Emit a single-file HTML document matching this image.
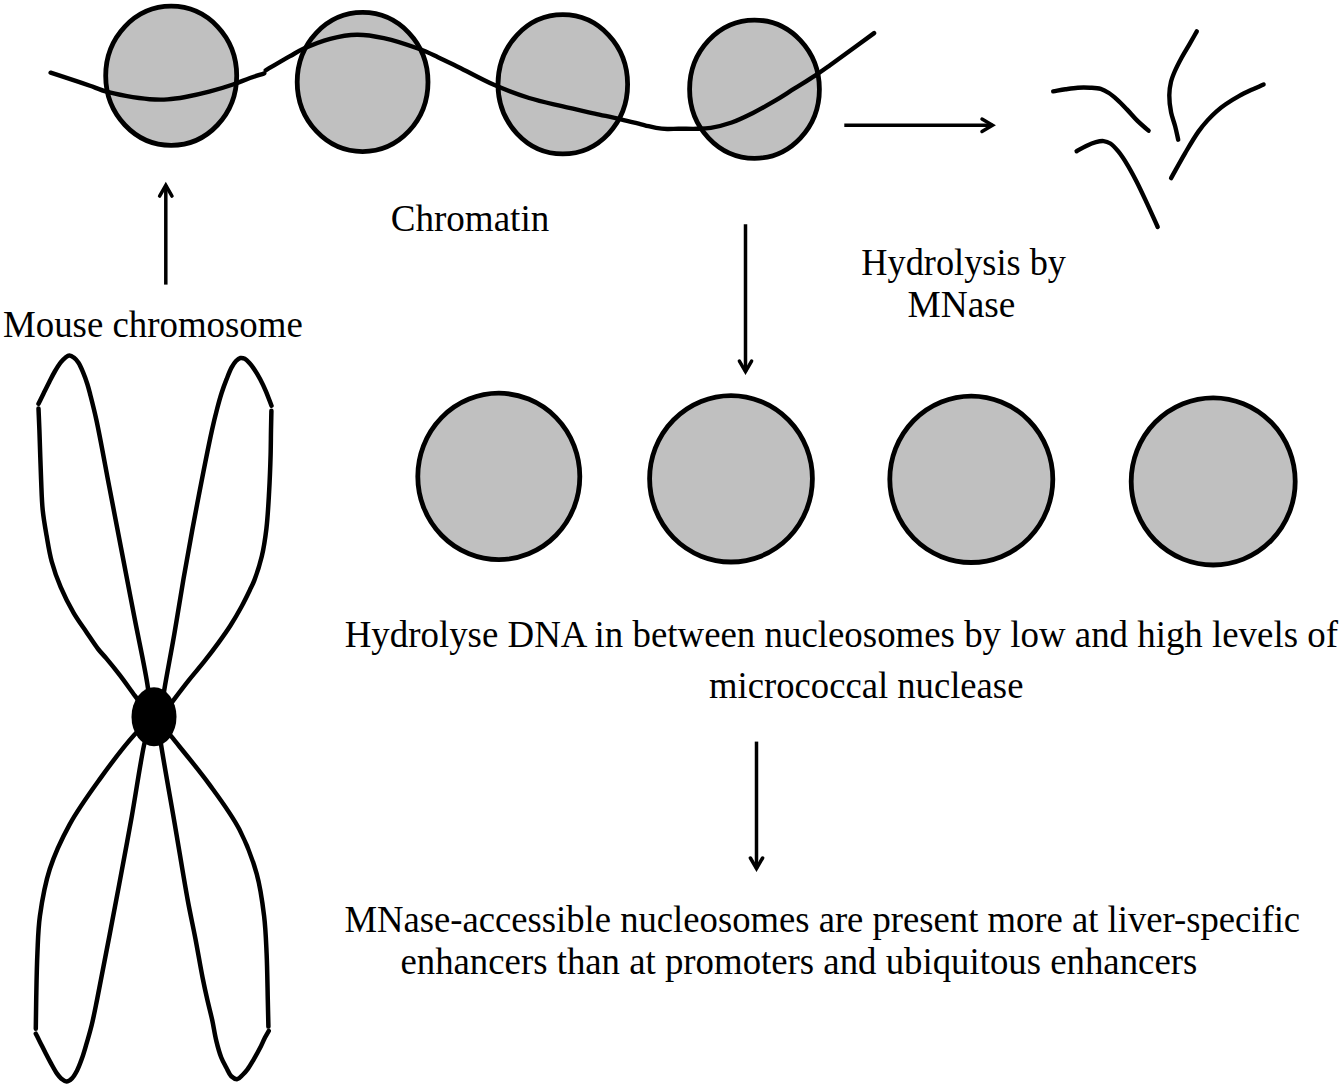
<!DOCTYPE html>
<html><head><meta charset="utf-8"><style>
html,body{margin:0;padding:0;background:#fff;width:1343px;height:1088px;overflow:hidden}
svg{display:block}
text{font-family:"Liberation Serif",serif;font-size:36.6px;fill:#000;white-space:pre;font-variant-ligatures:none}
</style></head><body>
<svg width="1343" height="1088" viewBox="0 0 1343 1088">
<ellipse cx="171.2" cy="75.8" rx="65.50" ry="69.60" fill="#c0c0c0" stroke="#000" stroke-width="4.8"/>
<ellipse cx="362.6" cy="82" rx="65.40" ry="69.60" fill="#c0c0c0" stroke="#000" stroke-width="4.8"/>
<ellipse cx="562.8" cy="84.3" rx="64.80" ry="69.60" fill="#c0c0c0" stroke="#000" stroke-width="4.8"/>
<ellipse cx="754.5" cy="89.2" rx="64.90" ry="69.10" fill="#c0c0c0" stroke="#000" stroke-width="4.8"/>
<path d="M50.60,72.70 C59.47,75.57 69.95,78.88 77.20,81.30 C82.25,82.98 85.46,84.10 90.00,85.70 C95.20,87.53 100.89,90.03 106.70,91.70 C112.80,93.46 119.06,94.69 125.80,95.90 C133.27,97.24 142.21,98.65 149.60,99.20 C155.97,99.68 161.55,99.76 167.50,99.40 C173.48,99.03 179.04,98.13 185.40,97.00 C192.80,95.68 201.31,93.77 209.20,91.70 C217.17,89.61 225.77,86.97 233.00,84.50 C239.18,82.39 244.56,79.93 250.00,78.00 C254.95,76.24 259.53,74.87 264.30,73.30" fill="none" stroke="#000" stroke-width="4.4" stroke-linecap="round" stroke-linejoin="round"/>
<path d="M265.70,70.30 C273.80,65.60 283.08,60.12 290.00,56.20 C295.11,53.31 298.06,51.25 303.40,48.80 C310.70,45.44 321.14,41.16 330.20,38.80 C339.02,36.51 348.06,34.81 357.00,34.70 C365.93,34.59 374.37,36.07 383.80,38.10 C394.76,40.46 408.93,45.21 418.70,48.80 C426.01,51.49 431.08,53.96 437.50,56.90 C444.39,60.06 450.73,63.27 458.70,67.20 C469.09,72.32 482.53,79.89 494.50,85.10 C506.00,90.10 517.62,94.44 529.10,98.00 C540.08,101.41 550.95,103.60 561.90,106.20 C572.82,108.80 584.38,111.31 594.70,113.60 C603.92,115.64 612.37,117.31 620.90,119.30 C629.09,121.21 638.40,123.73 644.90,125.30 C649.33,126.37 652.35,127.28 656.10,127.90 C659.79,128.51 663.49,128.87 667.20,129.00 C670.92,129.13 674.20,128.74 678.40,128.70 C683.82,128.64 691.27,128.99 697.00,128.80 C701.95,128.63 705.76,128.61 710.80,127.80 C717.09,126.78 724.84,124.88 731.70,122.50 C738.75,120.05 745.63,116.62 752.50,113.20 C759.53,109.70 766.50,105.75 773.40,101.70 C780.40,97.59 787.26,93.04 794.20,88.70 C801.16,84.34 808.77,79.79 815.10,75.60 C820.53,72.00 823.75,69.66 830.00,65.20 C840.84,57.48 859.40,43.80 874.10,33.10" fill="none" stroke="#000" stroke-width="4.4" stroke-linecap="round" stroke-linejoin="round"/>
<ellipse cx="498.8" cy="476.4" rx="81.00" ry="83.20" fill="#c0c0c0" stroke="#000" stroke-width="4.8"/>
<ellipse cx="731" cy="478.8" rx="81.40" ry="83.20" fill="#c0c0c0" stroke="#000" stroke-width="4.8"/>
<ellipse cx="971.3" cy="479.3" rx="81.50" ry="83.20" fill="#c0c0c0" stroke="#000" stroke-width="4.8"/>
<ellipse cx="1213.2" cy="481.4" rx="82.00" ry="83.60" fill="#c0c0c0" stroke="#000" stroke-width="4.8"/>
<path d="M844.3,125.2 L992.5,125.2" fill="none" stroke="#000" stroke-width="3.5" stroke-linecap="butt"/><path d="M982,119.1 L992.5,125.2 L982,131.5" fill="none" stroke="#000" stroke-width="3.5" stroke-linejoin="miter" stroke-miterlimit="10" stroke-linecap="round"/>
<path d="M165.8,284.6 L165.8,185.3" fill="none" stroke="#000" stroke-width="3.5" stroke-linecap="butt"/><path d="M159.6,196.1 L165.8,185.3 L172,196.1" fill="none" stroke="#000" stroke-width="3.5" stroke-linejoin="miter" stroke-miterlimit="10" stroke-linecap="round"/>
<path d="M745.5,224.2 L745.5,371.6" fill="none" stroke="#000" stroke-width="3.5" stroke-linecap="butt"/><path d="M739.4,361.1 L745.5,371.6 L751.6,361.1" fill="none" stroke="#000" stroke-width="3.5" stroke-linejoin="miter" stroke-miterlimit="10" stroke-linecap="round"/>
<path d="M756.5,741.6 L756.5,868.5" fill="none" stroke="#000" stroke-width="3.5" stroke-linecap="butt"/><path d="M750.4,858 L756.5,868.5 L762.6,858" fill="none" stroke="#000" stroke-width="3.5" stroke-linejoin="miter" stroke-miterlimit="10" stroke-linecap="round"/>
<path d="M1053.20,91.40 C1057.30,90.70 1061.39,89.92 1065.50,89.30 C1069.59,88.68 1073.70,87.97 1077.80,87.70 C1081.87,87.44 1086.07,87.48 1090.00,87.70 C1093.69,87.91 1097.45,87.94 1100.70,88.90 C1103.70,89.79 1106.25,91.30 1108.90,93.00 C1111.73,94.82 1114.31,97.10 1117.10,99.60 C1120.30,102.47 1123.60,105.97 1126.90,109.40 C1130.40,113.05 1133.83,117.31 1137.50,120.90 C1141.07,124.40 1144.90,127.43 1148.60,130.70" fill="none" stroke="#000" stroke-width="4.4" stroke-linecap="round" stroke-linejoin="round"/>
<path d="M1076.60,151.20 C1079.80,149.43 1082.94,147.43 1086.20,145.90 C1089.38,144.41 1092.81,142.89 1095.90,142.10 C1098.57,141.41 1101.14,140.84 1103.60,141.10 C1105.97,141.35 1108.21,142.12 1110.40,143.50 C1113.09,145.19 1115.59,148.19 1118.10,151.20 C1121.08,154.77 1123.94,159.18 1126.80,163.80 C1130.06,169.06 1133.21,175.00 1136.40,181.20 C1139.95,188.10 1143.50,195.87 1147.00,203.40 C1150.60,211.13 1154.13,219.13 1157.70,227.00" fill="none" stroke="#000" stroke-width="4.4" stroke-linecap="round" stroke-linejoin="round"/>
<path d="M1196.80,31.40 C1194.33,35.70 1191.93,39.92 1189.40,44.30 C1186.77,48.85 1183.79,53.58 1181.30,58.20 C1178.91,62.64 1176.49,67.30 1174.70,71.50 C1173.16,75.11 1171.89,78.09 1171.00,81.80 C1170.01,85.92 1169.35,90.45 1169.30,95.20 C1169.24,100.57 1170.04,107.00 1171.10,112.40 C1172.08,117.38 1174.00,121.86 1175.20,126.50 C1176.35,130.96 1177.20,135.30 1178.20,139.70" fill="none" stroke="#000" stroke-width="4.4" stroke-linecap="round" stroke-linejoin="round"/>
<path d="M1263.60,84.50 C1259.40,86.37 1255.13,88.14 1251.00,90.10 C1246.90,92.04 1242.97,93.93 1238.90,96.20 C1234.55,98.63 1229.63,101.59 1225.70,104.30 C1222.32,106.63 1219.55,108.71 1216.60,111.30 C1213.48,114.04 1210.45,117.13 1207.50,120.40 C1204.37,123.87 1201.56,127.16 1198.40,131.60 C1194.25,137.44 1189.68,145.37 1185.30,152.80 C1180.58,160.81 1175.83,169.67 1171.10,178.10" fill="none" stroke="#000" stroke-width="4.4" stroke-linecap="round" stroke-linejoin="round"/>
<path d="M38.50,403.80 C40.27,400.20 42.01,396.61 43.80,393.00 C45.61,389.35 47.45,385.62 49.30,382.00 C51.12,378.45 52.84,374.86 54.80,371.50 C56.71,368.23 58.90,364.57 60.90,362.10 C62.39,360.26 63.77,358.83 65.30,357.70 C66.62,356.72 67.98,355.54 69.40,355.50 C70.90,355.46 72.66,356.62 74.10,357.70 C75.73,358.92 77.15,360.66 78.50,362.70 C80.19,365.25 81.59,368.73 83.00,372.10 C84.57,375.84 86.18,380.34 87.40,384.20 C88.49,387.64 89.05,390.01 90.10,394.10 C91.80,400.69 94.07,409.32 96.40,420.00 C100.12,437.07 105.09,465.04 109.30,486.90 C113.35,507.91 117.12,527.53 121.20,548.70 C125.51,571.09 130.06,594.71 134.50,617.80 C138.96,641.01 145.50,670.26 147.90,687.60 C149.31,697.78 149.30,703.87 150.00,712.00" fill="none" stroke="#000" stroke-width="4.5" stroke-linecap="round" stroke-linejoin="round"/>
<path d="M38.50,408.50 C38.80,415.67 39.07,421.36 39.40,430.00 C39.90,443.13 40.47,465.08 41.10,479.60 C41.59,490.97 41.71,500.32 42.70,510.00 C43.61,518.95 45.11,527.14 46.60,535.70 C48.10,544.31 49.38,552.99 51.70,561.50 C54.06,570.16 57.12,578.75 60.70,587.20 C64.38,595.89 69.04,605.07 73.60,612.90 C77.69,619.93 82.29,626.00 86.50,632.20 C90.45,638.01 94.44,644.29 98.10,649.00 C100.96,652.68 103.28,654.80 106.30,658.40 C110.24,663.10 115.07,669.01 119.60,674.90 C124.62,681.43 129.89,688.99 135.00,695.90 C140.02,702.68 145.00,709.30 150.00,716.00" fill="none" stroke="#000" stroke-width="4.5" stroke-linecap="round" stroke-linejoin="round"/>
<path d="M271.50,405.70 C269.57,400.73 267.69,395.42 265.70,390.80 C263.91,386.66 262.12,382.81 260.20,379.20 C258.44,375.89 256.57,372.70 254.70,369.90 C253.06,367.44 251.46,365.13 249.70,363.20 C248.14,361.49 246.51,359.64 244.80,358.80 C243.39,358.11 241.81,357.70 240.40,358.00 C238.86,358.33 237.36,359.64 236.00,361.00 C234.33,362.68 232.92,365.09 231.50,367.70 C229.74,370.95 228.19,375.17 226.60,379.20 C224.88,383.57 223.14,388.24 221.60,393.00 C219.99,397.99 218.67,402.90 217.20,408.50 C215.47,415.07 214.07,420.65 212.00,430.00 C208.17,447.31 201.85,479.57 197.10,504.40 C192.35,529.20 187.51,555.91 183.50,578.90 C180.05,598.66 177.48,615.72 174.30,634.10 C171.12,652.49 166.77,674.81 164.40,689.20 C162.88,698.44 162.13,704.40 161.00,712.00" fill="none" stroke="#000" stroke-width="4.5" stroke-linecap="round" stroke-linejoin="round"/>
<path d="M271.40,410.80 C271.27,417.20 271.13,423.17 271.00,430.00 C270.86,437.81 270.86,445.94 270.60,455.10 C270.29,466.20 269.80,479.64 269.10,491.90 C268.40,504.17 267.76,517.34 266.40,528.70 C265.22,538.59 263.89,547.51 261.80,556.30 C259.83,564.60 256.75,573.94 254.40,580.10 C252.85,584.17 251.67,586.30 249.90,590.00 C247.59,594.82 244.66,600.87 241.60,606.50 C238.28,612.61 234.48,619.21 230.60,625.30 C226.75,631.34 222.70,636.98 218.40,642.90 C213.89,649.11 209.02,655.49 204.10,661.70 C199.12,667.99 193.69,674.11 188.70,680.40 C183.76,686.62 178.55,693.51 174.30,699.20 C170.83,703.85 168.10,707.73 165.00,712.00" fill="none" stroke="#000" stroke-width="4.5" stroke-linecap="round" stroke-linejoin="round"/>
<path d="M150.00,720.00 C144.73,725.00 140.21,728.38 134.20,735.00 C124.52,745.66 110.27,764.51 99.40,779.60 C88.81,794.29 78.09,809.04 69.70,824.30 C61.69,838.87 54.77,853.63 49.80,869.00 C44.87,884.24 41.95,901.26 39.90,916.10 C38.10,929.16 38.01,940.19 37.40,953.30 C36.72,967.98 36.47,986.30 36.20,1000.00 C35.99,1010.75 35.93,1019.20 35.80,1028.80" fill="none" stroke="#000" stroke-width="4.5" stroke-linecap="round" stroke-linejoin="round"/>
<path d="M35.80,1033.70 C37.27,1036.60 38.68,1039.37 40.20,1042.40 C41.86,1045.71 43.65,1049.40 45.40,1052.80 C47.11,1056.13 48.74,1059.26 50.60,1062.60 C52.59,1066.18 54.91,1070.67 57.00,1073.60 C58.56,1075.77 59.91,1077.55 61.60,1078.90 C63.11,1080.10 64.83,1081.53 66.50,1081.50 C68.29,1081.46 70.36,1079.87 72.00,1078.30 C74.02,1076.37 75.63,1073.22 77.20,1070.20 C78.99,1066.75 80.47,1062.59 81.90,1058.60 C83.38,1054.47 84.48,1050.59 85.90,1045.80 C87.70,1039.72 89.91,1032.28 91.70,1025.00 C93.64,1017.08 94.70,1011.40 97.00,1000.00 C101.95,975.47 113.00,917.24 119.30,883.80 C124.08,858.42 127.63,839.54 131.70,816.80 C135.91,793.27 140.40,762.14 144.10,744.90 C146.21,735.09 148.03,729.63 150.00,722.00" fill="none" stroke="#000" stroke-width="4.5" stroke-linecap="round" stroke-linejoin="round"/>
<path d="M158.00,720.00 C162.37,725.40 165.61,729.34 171.10,736.20 C180.56,748.01 197.81,768.55 209.50,784.60 C220.40,799.57 231.32,813.96 239.30,829.30 C246.84,843.78 252.54,859.03 256.70,873.90 C260.63,887.97 262.45,902.43 264.10,916.10 C265.64,928.85 265.99,940.19 266.60,953.30 C267.28,967.98 267.48,986.61 267.80,1000.00 C268.04,1010.11 268.20,1017.73 268.40,1026.60" fill="none" stroke="#000" stroke-width="4.5" stroke-linecap="round" stroke-linejoin="round"/>
<path d="M268.75,1030.90 C267.50,1033.10 266.29,1035.01 265.00,1037.50 C263.40,1040.59 261.82,1044.54 260.00,1048.10 C258.09,1051.84 255.88,1055.78 253.75,1059.40 C251.71,1062.86 249.59,1066.62 247.50,1069.40 C245.84,1071.62 244.23,1073.34 242.50,1075.00 C240.89,1076.54 239.34,1078.86 237.50,1079.10 C235.60,1079.35 233.01,1077.86 231.25,1076.25 C229.11,1074.30 227.88,1070.54 226.25,1067.50 C224.54,1064.30 222.77,1061.34 221.25,1057.50 C219.35,1052.67 217.71,1046.55 216.25,1040.60 C214.66,1034.11 213.68,1026.80 212.20,1020.00 C210.73,1013.27 208.97,1006.89 207.40,1000.00 C205.73,992.66 204.22,985.81 202.50,977.20 C200.27,966.03 197.86,951.46 195.40,938.60 C192.93,925.72 190.48,915.04 187.70,900.00 C183.82,879.00 179.18,849.83 174.80,824.30 C170.32,798.15 163.95,763.41 161.10,744.90 C159.57,734.99 159.03,729.63 158.00,722.00" fill="none" stroke="#000" stroke-width="4.5" stroke-linecap="round" stroke-linejoin="round"/>
<ellipse cx="154" cy="716.8" rx="22.5" ry="29.5" fill="#000"/>
<text transform="translate(3.0,336.9) scale(1.0068,1.057)">Mouse chromosome</text>
<text transform="translate(390.7,230.7) scale(1.013,1.057)">Chromatin</text>
<text transform="translate(861.3,274.9) scale(0.9922,1.057)">Hydrolysis by</text>
<text transform="translate(907.5,316.7) scale(1.0213,1.057)">MNase</text>
<text transform="translate(344.7,646.9) scale(1.0077,1.057)">Hydrolyse DNA in between nucleosomes by low and high levels of</text>
<text transform="translate(709.1,698.3) scale(1.0013,1.057)">micrococcal nuclease</text>
<text transform="translate(344.5,932.2) scale(1.0015,1.057)">MNase-accessible nucleosomes are present more at liver-specific</text>
<text transform="translate(400.4,974.4) scale(1.0053,1.057)">enhancers than at promoters and ubiquitous enhancers</text>
</svg>
</body></html>
